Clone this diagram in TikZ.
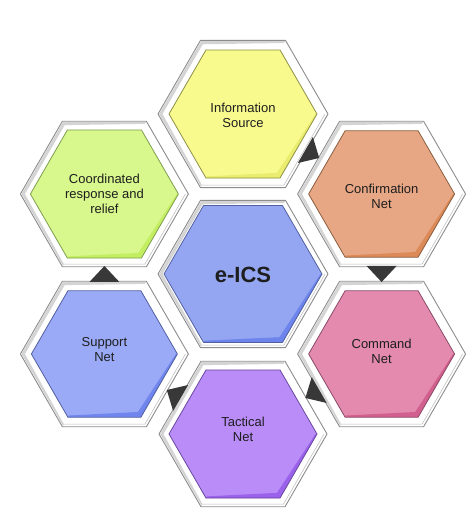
\documentclass[tikz,border=0pt]{standalone}
\usepackage{fontspec}
\setmainfont{Liberation Sans}
\usetikzlibrary{calc}
\definecolor{framegray}{HTML}{8C8C8C}
\definecolor{bevelgray}{HTML}{D4D4D4}
\definecolor{textdark}{HTML}{1E1E1E}
\definecolor{tridark}{HTML}{383838}
\definecolor{infofill}{HTML}{F8FA8E}\definecolor{infoline}{HTML}{8E9048}\definecolor{infostrip}{HTML}{E9EC6E}
\definecolor{conffill}{HTML}{E8A784}\definecolor{confline}{HTML}{8A5E40}\definecolor{confstrip}{HTML}{DB8A58}
\definecolor{cmdfill}{HTML}{E38AAE}\definecolor{cmdline}{HTML}{8A4A68}\definecolor{cmdstrip}{HTML}{D2608E}
\definecolor{tacfill}{HTML}{B98CF7}\definecolor{tacline}{HTML}{6A48A0}\definecolor{tacstrip}{HTML}{9A62EA}
\definecolor{supfill}{HTML}{9AAAF7}\definecolor{supline}{HTML}{5060A0}\definecolor{supstrip}{HTML}{7086EE}
\definecolor{eicsfill}{HTML}{94A6F2}\definecolor{eicsline}{HTML}{5060A0}\definecolor{eicsstrip}{HTML}{6C84EC}
\definecolor{coordfill}{HTML}{D8F78C}\definecolor{coordline}{HTML}{7E9E50}\definecolor{coordstrip}{HTML}{C4EE62}
\tikzset{
  frame/.style={fill=white, draw=framegray, line width=0.9pt, line join=round},
  lbl/.style={align=center, font=\fontsize{13}{15}\selectfont, text=textdark, inner sep=0pt},
  biglbl/.style={align=center, font=\fontsize{22}{26}\selectfont\bfseries, text=textdark, inner sep=0pt},
  arrowtri/.style={fill=tridark, draw=none},
}
% #1 centre, #2 fill, #3 outline, #4 strip, #5 outer radius, #6 inner radius
\newcommand\hexcell[6]{%
\begin{scope}[shift={(#1)}]
  \draw[frame] (0:#5) -- (60:#5) -- (120:#5) -- (180:#5) -- (240:#5) -- (300:#5) -- cycle;
  \fill[bevelgray] (180:#5-1) -- (120:#5-1) -- (60:#5-1) -- (60:#5-3) -- (120:#5-4.5) -- (180:#5-4.5) -- (240:#5-3) -- (240:#5-1) -- cycle;
  \draw[framegray!60, line width=0.5pt] (0:#5-3) -- (300:#5-3) -- (240:#5-3);
  \fill[#2] (0:#6) -- (60:#6) -- (120:#6) -- (180:#6) -- (240:#6) -- (300:#6) -- cycle;
  \fill[#4] (0:#6) -- (300:#6) -- (240:#6) -- (240:#6-2) -- (300:#6-6) -- (0:#6-1.5) -- cycle;
  \draw[#3, line width=0.8pt, line join=round] (0:#6) -- (60:#6) -- (120:#6) -- (180:#6) -- (240:#6) -- (300:#6) -- cycle;
\end{scope}}
% triangle from #1 toward #2
\newcommand\tri[2]{%
  \path ($(#1)!0.5!(#2)$) coordinate (m-#1-#2);
  \path ($(m-#1-#2)!8pt!(#2)$) coordinate (a-#1-#2);
  \path ($(m-#1-#2)!-8pt!(#2)$) coordinate (b-#1-#2);
  \fill[arrowtri] (a-#1-#2) -- ($(b-#1-#2)!15pt!90:(#2)$) -- ($(b-#1-#2)!15pt!-90:(#2)$) -- cycle;
}
\begin{document}
\begin{tikzpicture}[x=1pt,y=1pt]
\useasboundingbox[fill=white] (0,0) rectangle (474,511);
\coordinate (eics)  at (243,237);
\coordinate (info)  at (243,397);
\coordinate (conf)  at (381.6,317);
\coordinate (cmd)   at (381.6,157);
\coordinate (tac)   at (243,77);
\coordinate (sup)   at (104.4,157);
\coordinate (coord) at (104.4,317);

\hexcell{info}{infofill}{infoline}{infostrip}{85}{74}
\hexcell{conf}{conffill}{confline}{confstrip}{84}{73}
\hexcell{cmd}{cmdfill}{cmdline}{cmdstrip}{84}{73}
\hexcell{tac}{tacfill}{tacline}{tacstrip}{84}{74}
\hexcell{sup}{supfill}{supline}{supstrip}{84}{73}
\hexcell{coord}{coordfill}{coordline}{coordstrip}{84}{74}
\hexcell{eics}{eicsfill}{eicsline}{eicsstrip}{85}{79}

\tri{info}{conf}
\tri{conf}{cmd}
\tri{cmd}{tac}
\tri{tac}{sup}
\tri{sup}{coord}

\node[lbl] (info-t)  at ($(info)+(0,-1)$)  {Information\\Source};
\node[lbl] (conf-t)  at ($(conf)+(0,-2)$)  {Confirmation\\Net};
\node[lbl] (cmd-t)   at ($(cmd)+(0,3)$)    {Command\\Net};
\node[lbl] (tac-t)   at ($(tac)+(0,5)$)    {Tactical\\Net};
\node[lbl] (sup-t)   at ($(sup)+(0,4)$)    {Support\\Net};
\node[lbl] (coord-t) at ($(coord)+(0,0)$)  {Coordinated\\response and\\relief};
\node[biglbl] (eics-t) at ($(eics)+(0,-1)$) {e-ICS};
\end{tikzpicture}
\end{document}
